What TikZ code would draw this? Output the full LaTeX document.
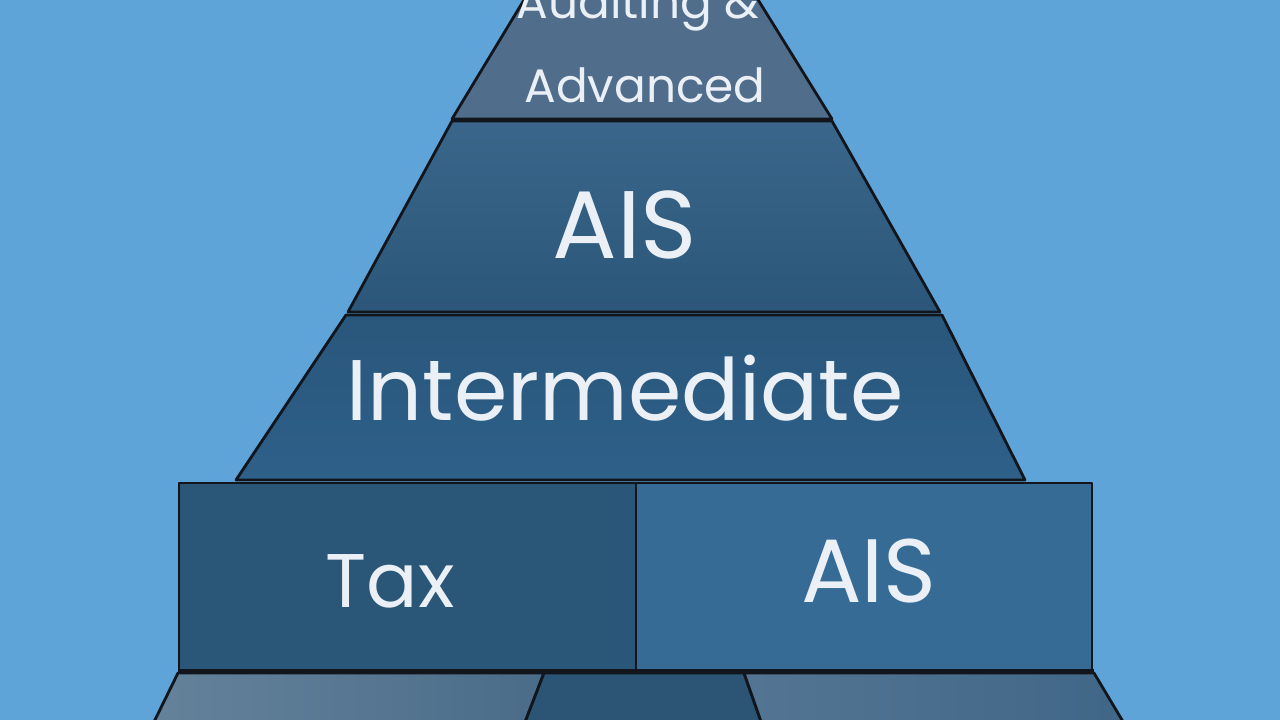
\documentclass[tikz,border=0pt]{standalone}
\usepackage{fontspec}
\setmainfont{Poppins}
\definecolor{bgblue}{RGB}{95,164,217}
\definecolor{tierA}{RGB}{80,110,140}
\definecolor{tierB}{RGB}{47,94,132}
\definecolor{tierC}{RGB}{46,96,137}
\definecolor{taxc}{RGB}{42,86,119}
\definecolor{aisc}{RGB}{53,107,149}
\definecolor{botL}{RGB}{74,108,137}
\definecolor{botM}{RGB}{44,84,116}
\definecolor{botR}{RGB}{64,102,135}
\definecolor{edge}{RGB}{18,22,28}
\definecolor{txt}{RGB}{234,240,246}
\begin{document}
\begin{tikzpicture}[x=1pt,y=-1pt,
  tierbox/.style={draw=edge,line width=2.8pt,line join=round},
  label/.style={text=txt,anchor=base,inner sep=0pt}]
\useasboundingbox (0,0) rectangle (1280,720);
\clip (0,0) rectangle (1280,720);
\fill[bgblue] (0,0) rectangle (1280,720);
% top tier
\path[tierbox,fill=tierA] (530,-10) -- (452,119) -- (832,119) -- (752,-10) -- cycle;
% AIS tier
\path[tierbox,top color=tierB!95!white,bottom color=tierB!92!black] (452,121) -- (348,312) -- (940,312) -- (832,121) -- cycle;
% Intermediate tier
\path[tierbox,top color=tierC!90!black,bottom color=tierC] (346,315) -- (236,480) -- (1025,480) -- (942,315) -- cycle;
% bottom row
\path[tierbox,left color=botL!85!white,right color=botL] (178,673) -- (150,730) -- (522,730) -- (544,673) -- cycle;
\path[tierbox,fill=botM] (544,673) -- (522,730) -- (764,730) -- (744,673) -- cycle;
\path[tierbox,left color=botR!90!white,right color=botR] (744,673) -- (764,730) -- (1128,730) -- (1094,673) -- cycle;
% Tax / AIS blocks
\path[tierbox,fill=taxc] (179,483) rectangle (636,670);
\path[tierbox,fill=aisc] (636,483) rectangle (1092,670);
\draw[edge,line width=4.5pt] (178,671) -- (1094,671);
% texts
\node[label,font=\fontsize{47}{47}\selectfont] (aud) at (638,18) {Auditing \&};
\node[label,font=\fontsize{47}{47}\selectfont] (adv) at (645,102) {Advanced};
\node[label,font=\fontsize{96}{96}\selectfont] (ais1) at (625,258) {AIS};
\node[label,font=\fontsize{86}{86}\selectfont] (inter) at (625,420) {Intermediate};
\node[label,font=\fontsize{76}{76}\selectfont] (tax) at (390,607) {Tax};
\node[label,font=\fontsize{90}{90}\selectfont] (ais2) at (869,602) {AIS};
\end{tikzpicture}
\end{document}
